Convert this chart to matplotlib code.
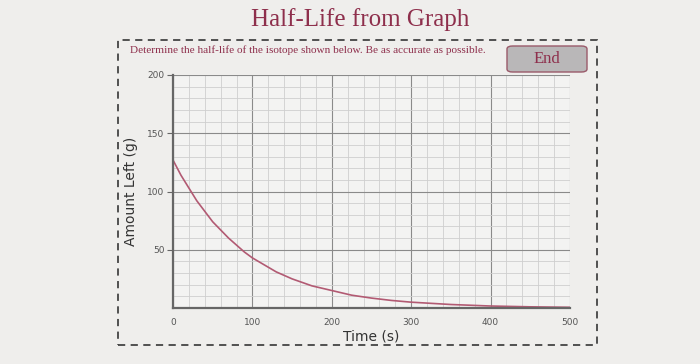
import matplotlib
matplotlib.use("Agg")
import matplotlib.pyplot as plt
from matplotlib.patches import Rectangle, FancyBboxPatch
from matplotlib.ticker import MultipleLocator

# values
time_s = [0, 10, 20, 30, 40, 50, 60, 70, 80, 90, 100, 115, 130, 150, 175,
          200, 225, 250, 275, 300, 350, 400, 450, 500]
amount_g = [127, 114, 103, 92, 83, 74, 67, 60, 54, 48, 43, 37, 31, 25, 19,
            15, 11, 8.5, 6.5, 5, 3, 1.7, 1.0, 0.6]
x_ticks = [0, 100, 200, 300, 400, 500]
y_ticks = [50, 100, 150, 200]

W, H = 700, 364
fig = plt.figure(figsize=(7, 3.64), dpi=100)
fig.patch.set_facecolor("#efeeec")

red = "#8e2f4c"
serif = "Liberation Serif"

fig.text(360 / W, 1 - 20 / H, "Half-Life from Graph", ha="center", va="center",
         fontsize=18, color=red, family=serif)

# dashed frame
box = Rectangle((118 / W, 1 - 345 / H), (597 - 118) / W, (345 - 40) / H,
                transform=fig.transFigure, fill=False, ls=(0, (4, 3)),
                lw=1.3, ec="#444444")
fig.patches.append(box)

fig.text(130 / W, 1 - 50 / H,
         "Determine the half-life of the isotope shown below. Be as accurate as possible.",
         ha="left", va="center", fontsize=8.1, color=red, family=serif)

btn = FancyBboxPatch((507 / W, 1 - 72 / H), 80 / W, 26 / H,
                     boxstyle="round,pad=0,rounding_size=0.008",
                     transform=fig.transFigure, fc="#b9b7b8", ec="#9a5a6a", lw=1)
fig.patches.append(btn)
fig.text(547 / W, 1 - 59 / H, "End", ha="center", va="center",
         fontsize=12, color=red, family=serif)

ax = fig.add_axes([173 / W, 1 - 308 / H, (570 - 173) / W, (308 - 75) / H])
ax.set_facecolor("#f3f3f2")
ax.plot(time_s, amount_g, color="#b25a73", lw=1.2)

ax.set_xlim(0, 500)
ax.set_ylim(0, 200)
ax.set_xticks(x_ticks)
ax.set_yticks(y_ticks)
ax.xaxis.set_minor_locator(MultipleLocator(20))
ax.yaxis.set_minor_locator(MultipleLocator(10))
ax.grid(which="major", color="#8a8a8a", lw=0.8)
ax.grid(which="minor", color="#cfcfcf", lw=0.6)
ax.set_axisbelow(True)
ax.tick_params(which="both", length=0, labelsize=6.5, labelcolor="#555555", pad=7)
ax.tick_params(axis="y", which="major", length=4, color="#666666", pad=2)
for side in ["top", "right"]:
    ax.spines[side].set_visible(False)
for side in ["left", "bottom"]:
    ax.spines[side].set_color("#666666")
    ax.spines[side].set_linewidth(1.6)

ax.set_xlabel("Time (s)", fontsize=10, color="#333333", labelpad=2)
ax.set_ylabel("Amount Left (g)", fontsize=10, color="#333333")
ax.yaxis.set_label_coords(-0.088, 0.5)

fig.savefig("out.png", dpi=100, facecolor=fig.get_facecolor())
